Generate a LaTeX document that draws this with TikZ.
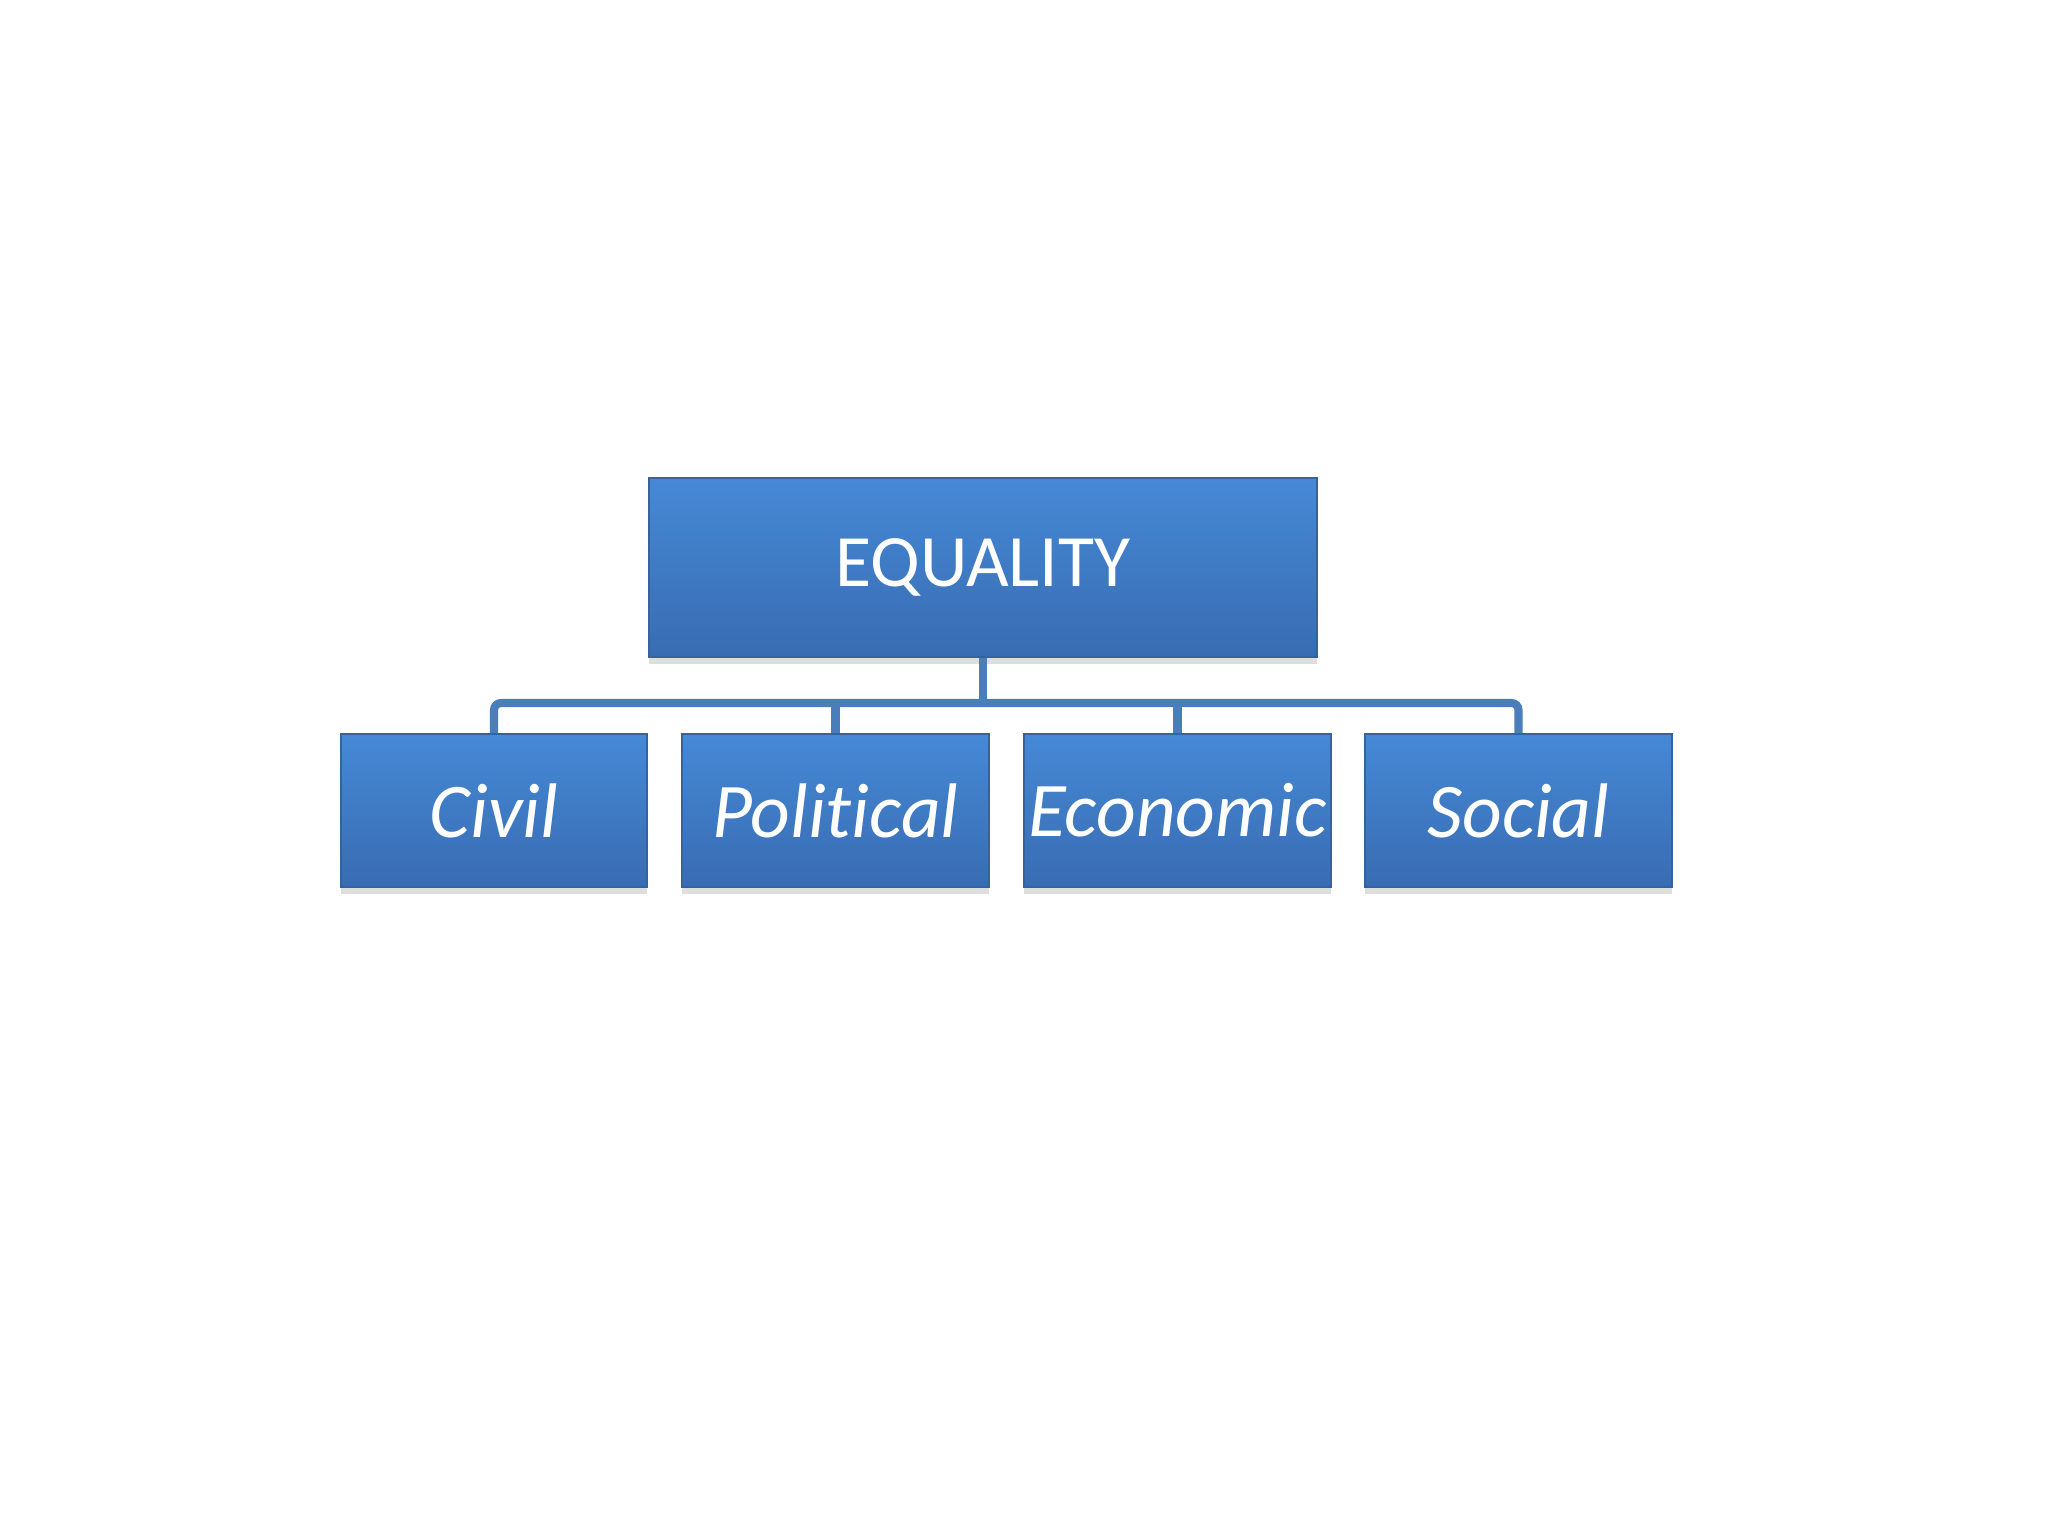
\documentclass[tikz,border=0pt]{standalone}
\usepackage{fontspec}
\setmainfont[RawFeature={-liga;-clig}]{Carlito}
\usetikzlibrary{shadows,calc}
\definecolor{boxtop}{HTML}{4689D6}
\definecolor{boxbot}{HTML}{386CB2}
\definecolor{boxedge}{HTML}{3463A0}
\definecolor{conn}{HTML}{4A7EBB}
\tikzset{
  box/.style={rectangle, draw=boxedge, line width=0.6pt, top color=boxtop, bottom color=boxbot,
    text=white, inner sep=0pt, drop shadow={shadow xshift=0pt, shadow yshift=-2pt, opacity=0.18, fill=black!70}},
  topbox/.style={box, minimum width=6.68cm, minimum height=1.79cm, font=\fontsize{21}{25}\selectfont},
  subbox/.style={box, minimum width=3.06cm, minimum height=1.53cm, font=\fontsize{22}{26}\selectfont\itshape},
  connector/.style={draw=conn, line width=2.3pt, rounded corners=2pt}
}
\begin{document}
\begin{tikzpicture}[x=0.01cm, y=-0.01cm]
\useasboundingbox[fill=white] (0,0) rectangle (2048,1536);
\coordinate (bar) at (983,703);
\node[topbox] (eq) at (983,567.5) {EQUALITY};
\node[subbox] (civ) at (494,810.5) {Civil};
\node[subbox] (pol) at (835.5,810.5) {Political};
\node[subbox] (eco) at (1177.5,810.5) {Economic};
\node[subbox] (soc) at (1518.5,810.5) {Social};
\draw[connector] (civ.north) -- (civ.north |- bar) -- (soc.north |- bar) -- (soc.north);
\draw[connector] (eq.south) -- (bar);
\draw[connector] (pol.north) -- (pol.north |- bar);
\draw[connector] (eco.north) -- (eco.north |- bar);
\end{tikzpicture}
\end{document}
